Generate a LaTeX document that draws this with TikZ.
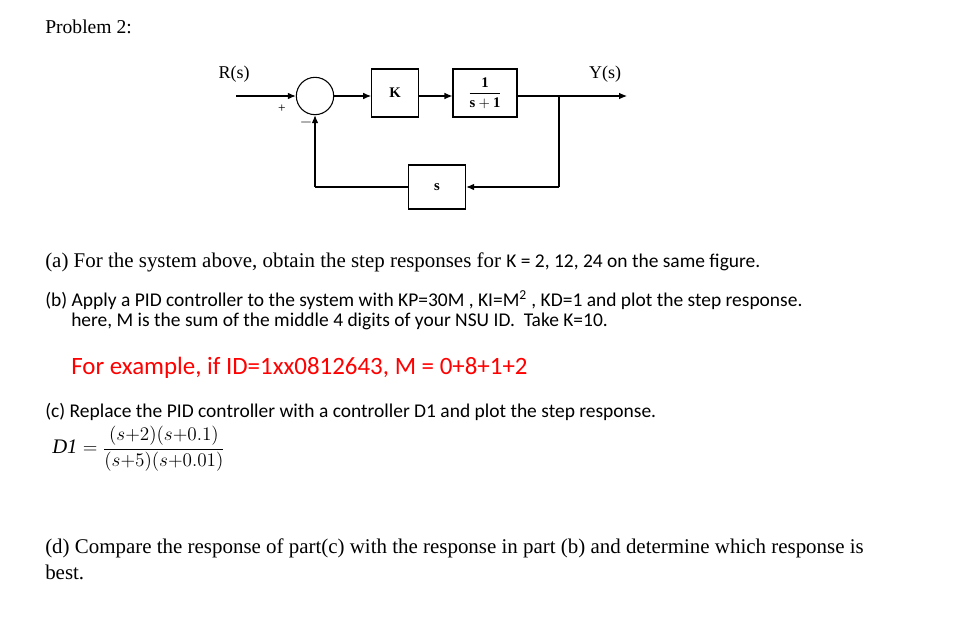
\documentclass[tikz,border=0pt]{standalone}
\usepackage{fontspec}
\usepackage{amsmath}
\setmainfont{Liberation Serif}
\newfontfamily\calfont{Carlito}
\usetikzlibrary{arrows.meta}
\begin{document}
\begin{tikzpicture}[x=0.75pt,y=-0.75pt,
  blk/.style={draw,thick,minimum width=#1,minimum height=36pt,inner sep=0pt,font=\fontsize{11}{12}\selectfont\bfseries},
  line/.style={thick},
  arr/.style={thick,-{Latex[length=6pt,width=5pt]}},
  txt/.style={anchor=west,inner sep=0pt,font=\fontsize{15.7}{18}\selectfont}]
\useasboundingbox (0,0) rectangle (962,625);
\node[txt,font=\fontsize{14.7}{17}\selectfont] (p) at (45,27) {Problem 2:};
% diagram
\node[draw,thick,circle,minimum size=28pt,inner sep=0pt] (sum) at (315,96) {};
\coordinate (in) at (236,96);
\node[blk=35pt] (k) at (395,93) {K};
\node[blk=48pt] (g) at (485,93) {$\dfrac{\mathbf{1}}{\mathbf{s+1}}$};
\coordinate (br) at (559,96);
\coordinate (out) at (627,96);
\node[blk=43pt,minimum height=33pt] (h) at (437,187) {s};
\coordinate (c1) at (559,187);
\coordinate (c2) at (315,187);
\draw[arr] (in) -- (sum);
\draw[arr] (sum) -- (sum -| k.west);
\draw[arr] (k.east |- sum) -- (g.west |- sum);
\draw[arr] (g.east |- sum) -- (out);
\draw[line] (br) -- (c1);
\draw[arr] (c1) -- (h);
\draw[line] (h) -- (c2);
\draw[arr] (c2) -- (sum);
\node[font=\fontsize{13.5}{14}\selectfont] (r) at (234,74) {R(s)};
\node[font=\fontsize{13.5}{14}\selectfont] (y) at (605,74) {Y(s)};
\node[font=\fontsize{10}{11}\selectfont] (pl) at (282,109) {+};
\node[font=\fontsize{12}{12}\selectfont] (mi) at (306,122) {$-$};
% text
\node[txt] (a) at (45,262) {(a) For the system above, obtain the step responses for {\calfont\fontsize{14.6}{17}\selectfont K = 2, 12, 24 on the same figure.}};
\node[txt,font=\calfont\fontsize{14.6}{17}\selectfont] (b) at (45,300) {(b) Apply a PID controller to the system with KP=30M , KI=M\textsuperscript{2} , KD=1 and plot the step response.};
\node[txt,font=\calfont\fontsize{14.6}{17}\selectfont] (b2) at (71,321) {here, M is the sum of the middle 4 digits of your NSU ID.\ \ Take K=10.};
\node[txt,font=\calfont\fontsize{18.7}{21}\selectfont,text=red] (ex) at (71,368) {For example, if ID=1xx0812643, M = 0+8+1+2};
\node[txt,font=\calfont\fontsize{14.6}{17}\selectfont] (c) at (45,412) {(c) Replace the PID controller with a controller D1 and plot the step response.};
\node[txt,font=\fontsize{15.5}{18}\selectfont] (d1) at (52,449) {$\mathit{D1} = \dfrac{(s{+}2)(s{+}0.1)}{(s{+}5)(s{+}0.01)}$};
\node[txt] (dd) at (45,548) {(d) Compare the response of part(c) with the response in part (b) and determine which response is};
\node[txt] (dd2) at (45,572) {best.};
\end{tikzpicture}
\end{document}
